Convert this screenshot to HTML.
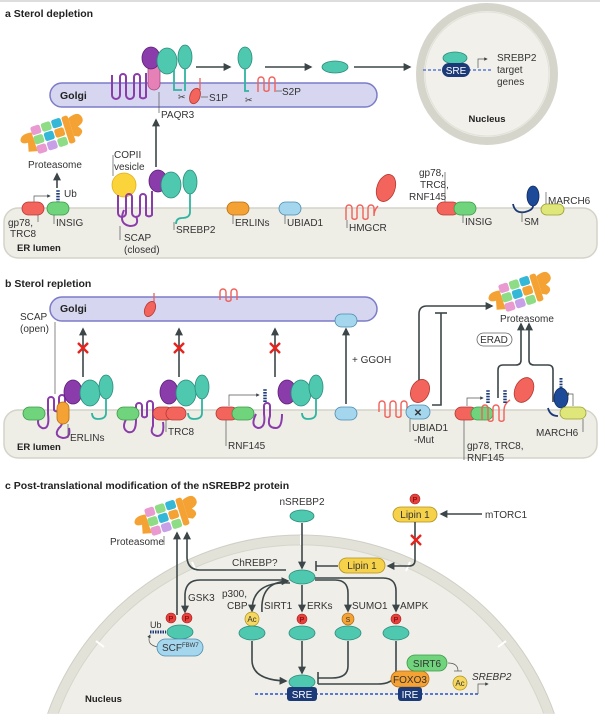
<!DOCTYPE html>
<html><head><meta charset="utf-8"><style>
html,body{margin:0;padding:0;background:#fff;width:600px;height:721px;overflow:hidden}
svg{display:block}
text{font-family:"Liberation Sans",sans-serif;font-size:10px;fill:#333}
.t{font-weight:bold;font-size:10.5px;fill:#222}
.c{text-anchor:middle}
.ln{stroke:#3c4648;stroke-width:1.6;fill:none}
.th{stroke:#555;stroke-width:0.7;fill:none}
.tl{fill:#4fc8b0;stroke:#2b8c7c;stroke-width:0.8}
.pu{fill:#8b3cab;stroke:#5c2078;stroke-width:0.8}
.rd{fill:#f2645c;stroke:#b43a34;stroke-width:0.8}
.gr{fill:#70d47c;stroke:#3c9a48;stroke-width:0.8}
.or{fill:#f5a234;stroke:#b86e10;stroke-width:0.8}
.bl{fill:#a4d6ee;stroke:#4c8cb0;stroke-width:0.8}
.ye{fill:#f6d24a;stroke:#b0901a;stroke-width:0.8}
.yg{fill:#dfe67a;stroke:#9aa030;stroke-width:0.8}
.pl{stroke:#8b3cab;stroke-width:2;fill:none}
.rw{stroke:#f0605a;stroke-width:1.4;fill:none}
.ts{stroke:#2fb4a0;stroke-width:1.8;fill:none}
.ub{stroke:#1c3a78;stroke-width:3.5;stroke-dasharray:1.6,1.2;fill:none}
.x{stroke:#e8221c;stroke-width:2.4}
</style></head><body>
<svg width="600" height="721" viewBox="0 0 600 721" xmlns="http://www.w3.org/2000/svg">
<defs>
<marker id="a" viewBox="0 0 10 10" refX="8" refY="5" markerWidth="5" markerHeight="5" orient="auto"><path d="M0,0 L10,5 L0,10 z" fill="#3c4648"/></marker>
<symbol id="prot" viewBox="-32 -22 64 44" overflow="visible">
<g transform="rotate(-18)">
<rect x="-20" y="-13" width="9" height="8" rx="2" fill="#e99ad0"/><rect x="-20" y="-4" width="9" height="8" rx="2" fill="#8fdc86"/><rect x="-20" y="5" width="9" height="8" rx="2" fill="#e99ad0"/>
<rect x="-10" y="-13" width="9" height="8" rx="2" fill="#8fdc86"/><rect x="-10" y="-4" width="9" height="8" rx="2" fill="#35b8d8"/><rect x="-10" y="5" width="9" height="8" rx="2" fill="#c7a0e8"/>
<rect x="0" y="-13" width="9" height="8" rx="2" fill="#35b8d8"/><rect x="0" y="-4" width="9" height="8" rx="2" fill="#f5a234"/><rect x="0" y="5" width="9" height="8" rx="2" fill="#8fdc86"/>
<rect x="10" y="-13" width="6" height="26" rx="2" fill="#f5a234"/>
<path d="M16,-10 q10,-4 12,2 q2,6 -6,8 q6,6 -2,9 l-4,-2z" fill="#f5a234"/>
<path d="M-20,-8 q-10,-2 -12,4 q0,4 6,4 l-2,8 l8,2z" fill="#f5a234"/>
</g></symbol>
</defs>
<line x1="0" y1="1" x2="600" y2="1" stroke="#bbb"/>

<!-- ============ PANEL A ============ -->
<text x="5" y="17" class="t">a  Sterol depletion</text>
<circle cx="487" cy="74" r="67" fill="#f1f0ea" stroke="#d6d5cc" stroke-width="8"/>
<circle cx="487" cy="74" r="62" fill="none" stroke="#e2e1d8" stroke-width="1"/>
<line x1="423" y1="70" x2="492" y2="70" stroke="#5a7ad0" stroke-width="1.5" stroke-dasharray="3,2"/>
<ellipse cx="455" cy="58" rx="12" ry="6" class="tl"/>
<rect x="442" y="63" width="28" height="14" rx="7" fill="#1c3a78"/>
<text x="456" y="74" class="c" style="fill:#fff">SRE</text>
<path d="M478,68 V59 H487" class="th" marker-end="url(#a)"/>
<text x="497" y="61">SREBP2</text><text x="497" y="73">target</text><text x="497" y="85">genes</text>
<text x="487" y="122" class="t c" style="font-size:9.5px">Nucleus</text>
<rect x="50" y="83" width="327" height="24" rx="12" fill="#d6d6f0" stroke="#7c7cc8" stroke-width="1.5"/>
<text x="60" y="99" class="t">Golgi</text>
<path d="M112,75 v20 a4,4 0 0 0 8,0 v-18 a3,3 0 0 1 6,0 v18 a4,4 0 0 0 8,0 v-18 a3,3 0 0 1 6,0 v20 a4,4 0 0 0 6,0 v-24" class="pl"/>
<rect x="148" y="64" width="12" height="26" rx="6" fill="#e681b8" stroke="#a84a80" stroke-width="0.8"/>
<ellipse cx="151" cy="58" rx="9" ry="11" class="pu"/>
<ellipse cx="167" cy="61" rx="10" ry="13" class="tl"/>
<path d="M174,70 v20 h8" class="ts"/>
<ellipse cx="185" cy="57" rx="7" ry="12" class="tl"/>
<path d="M185,69 v22" class="ts"/>
<text x="178" y="100" style="font-size:9px">✂</text>
<line x1="200" y1="78" x2="200" y2="90" stroke="#f0605a" stroke-width="1.3"/>
<ellipse cx="195" cy="96" rx="5" ry="8" class="rd" transform="rotate(20 195 96)"/>
<line x1="201" y1="97" x2="208" y2="97" class="th"/><text x="209" y="101">S1P</text>
<line x1="159" y1="92" x2="159" y2="113" class="th"/><text x="161" y="118">PAQR3</text>
<line x1="196" y1="67" x2="230" y2="67" class="ln" marker-end="url(#a)"/>
<ellipse cx="245" cy="58" rx="7" ry="11" class="tl"/>
<path d="M245,69 v22 h4" class="ts"/>
<text x="245" y="103" style="font-size:9px">✂</text>
<path d="M258,92 v-12 a3,3 0 0 1 6,0 v10 a3,3 0 0 0 5,0 v-10 a3,3 0 0 1 6,0 v12" class="rw"/>
<line x1="276" y1="91" x2="282" y2="91" class="th"/><text x="282" y="95">S2P</text>
<line x1="265" y1="67" x2="311" y2="67" class="ln" marker-end="url(#a)"/>
<ellipse cx="335" cy="67" rx="13" ry="6" class="tl"/>
<line x1="354" y1="67" x2="410" y2="67" class="ln" marker-end="url(#a)"/>
<line x1="156" y1="167" x2="156" y2="120" class="ln" marker-end="url(#a)"/>
<rect x="4" y="208" width="593" height="50" rx="14" fill="#eeede6" stroke="#d4d3c8" stroke-width="1.5"/>
<text x="17" y="251" class="t" style="font-size:9.5px">ER lumen</text>
<use href="#prot" x="20" y="110" width="70" height="48"/>
<text x="55" y="168" class="c">Proteasome</text>
<line x1="57" y1="188" x2="57" y2="174" class="ln" marker-end="url(#a)"/>
<path d="M58,203 V189" class="ub"/>
<text x="64" y="197">Ub</text>
<path d="M34,202 v-6 h16" class="th" marker-end="url(#a)"/>
<rect x="22" y="202" width="22" height="13" rx="6.5" class="rd"/>
<rect x="47" y="202" width="22" height="13" rx="6.5" class="gr"/>
<line x1="38" y1="215" x2="38" y2="222" class="th"/>
<text x="8" y="226">gp78,</text><text x="10" y="237">TRC8</text>
<line x1="54" y1="215" x2="54" y2="224" class="th"/><text x="56" y="226">INSIG</text>
<circle cx="124" cy="185" r="12" fill="#fbd33a" stroke="#e0b020" stroke-width="0.8"/>
<line x1="113" y1="155" x2="113" y2="176" class="th"/>
<text x="114" y="158">COPII</text><text x="114" y="170">vesicle</text>
<path d="M118,195 v18 a4,4 0 0 0 8,0 v-16 a3,3 0 0 1 6,0 v16 a4,4 0 0 0 8,0 v-16 a3,3 0 0 1 6,0 v18 a4,4 0 0 0 6,0 v-24" class="pl"/>
<path d="M124,210 q-6,14 6,16 q10,0 6,-10" class="pl"/>
<ellipse cx="158" cy="181" rx="9" ry="11" class="pu"/>
<ellipse cx="171" cy="185" rx="10" ry="13" class="tl"/>
<ellipse cx="190" cy="182" rx="7" ry="12" class="tl"/>
<path d="M190,194 v18 q0,6 -8,6 q-6,0 -6,6" class="ts"/>
<line x1="120" y1="226" x2="120" y2="240" class="th"/>
<text x="124" y="241">SCAP</text><text x="124" y="253">(closed)</text>
<line x1="174" y1="222" x2="174" y2="230" class="th"/><text x="176" y="233">SREBP2</text>
<rect x="227" y="202" width="22" height="13" rx="6.5" class="or"/>
<line x1="233" y1="215" x2="233" y2="224" class="th"/><text x="235" y="226">ERLINs</text>
<rect x="279" y="202" width="22" height="13" rx="6.5" class="bl"/>
<line x1="285" y1="215" x2="285" y2="224" class="th"/><text x="287" y="226">UBIAD1</text>
<path d="M346,220 v-12 a3,3 0 0 1 6,0 v10 a3,3 0 0 0 5,0 v-10 a3,3 0 0 1 6,0 v10 a3,3 0 0 0 5,0 v-10 a3,3 0 0 1 6,0 v8 q0,-6 4,-10" class="rw"/>
<ellipse cx="386" cy="188" rx="9" ry="14" class="rd" transform="rotate(20 386 188)"/>
<line x1="347" y1="220" x2="347" y2="228" class="th"/><text x="349" y="231">HMGCR</text>
<rect x="437" y="202" width="22" height="13" rx="6.5" class="rd"/>
<rect x="454" y="202" width="22" height="13" rx="6.5" class="gr"/>
<text x="419" y="176">gp78,</text><text x="420" y="188">TRC8,</text><text x="409" y="200">RNF145</text>
<line x1="445" y1="172" x2="445" y2="202" class="th"/>
<line x1="463" y1="215" x2="463" y2="223" class="th"/><text x="465" y="225">INSIG</text>
<path d="M513,204 q2,10 12,8 q8,-2 8,-6" stroke="#1c3a78" stroke-width="1.8" fill="none"/>
<ellipse cx="533" cy="196" rx="6" ry="10" fill="#1c4a98" stroke="#102a60" stroke-width="0.8"/>
<line x1="522" y1="212" x2="522" y2="222" class="th"/><text x="524" y="225">SM</text>
<rect x="541" y="204" width="23" height="11" rx="5.5" class="yg"/>
<line x1="546" y1="192" x2="546" y2="204" class="th"/><text x="548" y="204">MARCH6</text>

<!-- ============ PANEL B ============ -->
<text x="5" y="287" class="t">b  Sterol repletion</text>
<rect x="50" y="297" width="327" height="24" rx="12" fill="#d6d6f0" stroke="#7c7cc8" stroke-width="1.5"/>
<text x="60" y="312" class="t">Golgi</text>
<line x1="154" y1="293" x2="154" y2="302" stroke="#f0605a" stroke-width="1.3"/>
<ellipse cx="150" cy="309" rx="5" ry="8" class="rd" transform="rotate(25 150 309)"/>
<path d="M220,300 v-8 a3,3 0 0 1 6,0 v8 a3,3 0 0 0 5,0 v-8 a3,3 0 0 1 6,0 v8" class="rw"/>
<rect x="335" y="314" width="22" height="13" rx="6.5" class="bl"/>
<line x1="83" y1="377" x2="83" y2="329" class="ln" marker-end="url(#a)"/>
<line x1="179" y1="377" x2="179" y2="329" class="ln" marker-end="url(#a)"/>
<line x1="275" y1="377" x2="275" y2="329" class="ln" marker-end="url(#a)"/>
<g class="x"><line x1="78" y1="343" x2="88" y2="353"/><line x1="88" y1="343" x2="78" y2="353"/>
<line x1="174" y1="343" x2="184" y2="353"/><line x1="184" y1="343" x2="174" y2="353"/>
<line x1="270" y1="343" x2="280" y2="353"/><line x1="280" y1="343" x2="270" y2="353"/></g>
<line x1="346" y1="404" x2="346" y2="329" class="ln" marker-end="url(#a)"/>
<text x="352" y="363">+ GGOH</text>
<rect x="4" y="410" width="593" height="48" rx="14" fill="#eeede6" stroke="#d4d3c8" stroke-width="1.5"/>
<text x="17" y="450" class="t" style="font-size:9.5px">ER lumen</text>
<path d="M42,412 q-8,12 0,16 q8,2 6,-14 v-14 a3,3 0 0 1 6,0 v10 a3,3 0 0 0 5,0 v-12 a3,3 0 0 1 6,0 q0,26 -6,30 q-6,8 4,10 q8,0 6,-10" class="pl"/>
<rect x="23" y="407" width="22" height="13" rx="6.5" class="gr"/>
<rect x="57" y="402" width="12" height="22" rx="6" class="or"/>
<ellipse cx="73" cy="392" rx="9" ry="12" class="pu"/>
<ellipse cx="90" cy="393" rx="10" ry="13" class="tl"/>
<ellipse cx="106" cy="387" rx="7" ry="12" class="tl"/>
<path d="M106,399 v14 q0,6 -8,6 q-6,0 -6,-6" class="ts"/>
<text x="20" y="320">SCAP</text><text x="20" y="332">(open)</text>
<line x1="55" y1="322" x2="55" y2="394" class="th"/>
<line x1="68" y1="424" x2="68" y2="438" class="th"/><text x="70" y="441">ERLINs</text>
<path d="M128,416 q-8,12 0,16 q8,2 8,-12 v-14 a3,3 0 0 1 6,0 v10 a3,3 0 0 0 5,0 v-12 a3,3 0 0 1 6,0 v22 q-4,8 4,10 q8,0 6,-14" class="pl"/>
<rect x="117" y="407" width="22" height="13" rx="6.5" class="gr"/>
<rect x="153" y="407" width="20" height="13" rx="6.5" class="rd"/>
<rect x="166" y="407" width="20" height="13" rx="6.5" class="rd"/>
<ellipse cx="169" cy="392" rx="9" ry="12" class="pu"/>
<ellipse cx="186" cy="393" rx="10" ry="13" class="tl"/>
<ellipse cx="202" cy="387" rx="7" ry="12" class="tl"/>
<path d="M202,399 v14 q0,6 -8,6 q-6,0 -6,-6" class="ts"/>
<line x1="166" y1="420" x2="166" y2="432" class="th"/><text x="168" y="435">TRC8</text>
<rect x="216" y="407" width="22" height="13" rx="6.5" class="rd"/>
<rect x="232" y="407" width="22" height="13" rx="6.5" class="gr"/>
<path d="M229,406 V395 H259" class="th" marker-end="url(#a)"/>
<path d="M265,402 V388" class="ub"/>
<path d="M256,414 q-6,12 2,14 q8,0 6,-14 v-8 a3,3 0 0 1 6,0 v10 q-4,12 6,12 q6,0 6,-14" class="pl"/>
<ellipse cx="287" cy="392" rx="9" ry="12" class="pu"/>
<ellipse cx="301" cy="393" rx="10" ry="13" class="tl"/>
<ellipse cx="316" cy="387" rx="7" ry="12" class="tl"/>
<path d="M316,399 v14 q0,6 -8,6 q-6,0 -6,-6" class="ts"/>
<line x1="226" y1="420" x2="226" y2="446" class="th"/><text x="228" y="449">RNF145</text>
<rect x="335" y="407" width="22" height="13" rx="6.5" class="bl"/>
<path d="M379,412 v-8 a3,3 0 0 1 6,0 v12 a3,3 0 0 0 5,0 v-12 a3,3 0 0 1 6,0 v12 a3,3 0 0 0 5,0 v-12 a3,3 0 0 1 6,0 v10" class="rw"/>
<ellipse cx="420" cy="391" rx="9" ry="12" class="rd" transform="rotate(25 420 391)"/>
<rect x="406" y="405" width="24" height="14" rx="7" class="bl"/>
<text x="418" y="416" class="c" style="font-weight:bold;font-size:10px">✕</text>
<path d="M419,380 V314 q0,-8 8,-8 H492" class="ln" marker-end="url(#a)"/>
<path d="M432,405 H441 V313" class="ln"/><line x1="435" y1="313" x2="447" y2="313" class="ln"/>
<line x1="410" y1="419" x2="410" y2="432" class="th"/>
<text x="412" y="431">UBIAD1</text><text x="414" y="443">-Mut</text>
<use href="#prot" x="488" y="268" width="70" height="48"/>
<text x="527" y="322" class="c">Proteasome</text>
<rect x="477" y="333" width="35" height="13" rx="6.5" fill="#fff" stroke="#666" stroke-width="0.8"/>
<text x="494" y="343" class="c">ERAD</text>
<path d="M498,398 V370 q0,-5 5,-5 H516 q5,0 5,-5 V324" class="ln" marker-end="url(#a)"/>
<path d="M553,402 V370 q0,-5 -5,-5 H534 q-5,0 -5,-5 V324" class="ln" marker-end="url(#a)"/>
<rect x="455" y="407" width="22" height="13" rx="6.5" class="rd"/>
<rect x="471" y="407" width="22" height="13" rx="6.5" class="gr"/>
<path d="M467,406 V398 H483" class="th" marker-end="url(#a)"/>
<path d="M482,420 v-12 a3,3 0 0 1 6,0 v12 a3,3 0 0 0 5,0 v-12 a3,3 0 0 1 6,0 v12 a3,3 0 0 0 5,0 v-10 q0,-6 6,-10" class="rw"/>
<path d="M488,403 V390" class="ub"/><path d="M505,403 V390" class="ub"/>
<ellipse cx="524" cy="390" rx="9" ry="13" class="rd" transform="rotate(25 524 390)"/>
<line x1="464" y1="420" x2="464" y2="460" class="th"/>
<text x="467" y="449">gp78, TRC8,</text><text x="467" y="461">RNF145</text>
<path d="M548,408 q2,8 10,8" stroke="#1c3a78" stroke-width="1.8" fill="none"/>
<ellipse cx="561" cy="398" rx="7" ry="10" fill="#1c4a98" stroke="#102a60" stroke-width="0.8"/>
<path d="M561,388 V378" class="ub" style="stroke-width:3"/>
<path d="M573,406 V394 H566" class="th" marker-end="url(#a)"/>
<rect x="560" y="407" width="26" height="12" rx="6" class="yg"/>
<line x1="583" y1="419" x2="583" y2="432" class="th"/><text x="536" y="436">MARCH6</text>

<!-- ============ PANEL C ============ -->
<text x="5" y="489" class="t">c  Post-translational modification of the nSREBP2 protein</text>
<path d="M47.5,714 A269,269 0 0 1 554.5,714 Z" fill="#e3e2d9" stroke="#d0cfc5" stroke-width="1"/>
<path d="M58.1,714 A259,259 0 0 1 543.9,714 Z" fill="#efeee8" stroke="#d6d5cb" stroke-width="1"/>
<line x1="47" y1="714.5" x2="555" y2="714.5" stroke="#fff" stroke-width="1.5"/>
<line x1="301" y1="535" x2="301" y2="545" stroke="#fff" stroke-width="2"/>
<line x1="96" y1="641" x2="104" y2="647" stroke="#fff" stroke-width="2"/>
<line x1="506" y1="641" x2="498" y2="647" stroke="#fff" stroke-width="2"/>
<line x1="192" y1="562" x2="196" y2="571" stroke="#fff" stroke-width="2"/>
<line x1="410" y1="562" x2="406" y2="571" stroke="#fff" stroke-width="2"/>
<text x="85" y="702" class="t" style="font-size:9.5px">Nucleus</text>
<use href="#prot" x="133" y="492" width="72" height="48"/>
<text x="110" y="545">Proteasome</text>
<line x1="164" y1="536" x2="164" y2="545" class="th"/>
<text x="302" y="505" class="c">nSREBP2</text>
<ellipse cx="302" cy="516" rx="12" ry="6" class="tl"/>
<line x1="302" y1="523" x2="302" y2="568" class="ln" marker-end="url(#a)"/>
<circle cx="415" cy="499" r="5" fill="#e8403c" stroke="#a02020" stroke-width="0.6"/>
<text x="415" y="502" class="c" style="font-size:7px;fill:#600">P</text>
<rect x="393" y="507" width="44" height="15" rx="7.5" class="ye"/>
<text x="415" y="518" class="c">Lipin 1</text>
<text x="485" y="518">mTORC1</text>
<line x1="482" y1="514" x2="441" y2="514" class="ln" marker-end="url(#a)"/>
<path d="M415,522 V560 q0,6 -6,6 H388" class="ln" marker-end="url(#a)"/>
<g class="x"><line x1="411" y1="535" x2="421" y2="545"/><line x1="421" y1="535" x2="411" y2="545"/></g>
<rect x="339" y="558" width="46" height="15" rx="7.5" class="ye"/>
<text x="362" y="569" class="c">Lipin 1</text>
<line x1="338" y1="566" x2="316" y2="566" class="ln"/><line x1="316" y1="561" x2="316" y2="571" class="ln"/>
<ellipse cx="302" cy="577" rx="13" ry="7" class="tl"/>
<text x="232" y="566">ChREBP?</text>
<path d="M286,570 H200 q-12,0 -13,-12 V533" class="ln" marker-end="url(#a)"/>
<line x1="177" y1="615" x2="177" y2="533" class="ln" marker-end="url(#a)"/>
<path d="M286,580 H200 q-14,0 -15,14 V612" class="ln" marker-end="url(#a)"/>
<text x="188" y="601">GSK3</text>
<path d="M290,583 q-38,-2 -38,28" class="ln" marker-end="url(#a)"/>
<path d="M262,612 q-2,-30 26,-31" class="ln" marker-end="url(#a)"/>
<text x="222" y="597">p300,</text><text x="227" y="609">CBP</text>
<text x="264" y="609">SIRT1</text>
<line x1="302" y1="585" x2="302" y2="611" class="ln" marker-end="url(#a)"/>
<text x="307" y="609">ERKs</text>
<path d="M315,580 H335 q13,0 13,13 V611" class="ln" marker-end="url(#a)"/>
<text x="352" y="609">SUMO1</text>
<path d="M315,578 H383 q13,0 13,13 V611" class="ln" marker-end="url(#a)"/>
<text x="400" y="609">AMPK</text>
<circle cx="252" cy="619" r="7" fill="#f6d860" stroke="#b0901a" stroke-width="0.7"/><text x="252" y="622" class="c" style="font-size:8px">Ac</text>
<circle cx="302" cy="619" r="5" fill="#e8403c" stroke="#a02020" stroke-width="0.6"/><text x="302" y="622" class="c" style="font-size:7px;fill:#600">P</text>
<circle cx="348" cy="619" r="6" fill="#f5a234" stroke="#a06010" stroke-width="0.6"/><text x="348" y="622" class="c" style="font-size:7px">S</text>
<circle cx="396" cy="619" r="5" fill="#e8403c" stroke="#a02020" stroke-width="0.6"/><text x="396" y="622" class="c" style="font-size:7px;fill:#600">P</text>
<ellipse cx="252" cy="633" rx="13" ry="7" class="tl"/>
<ellipse cx="302" cy="633" rx="13" ry="7" class="tl"/>
<ellipse cx="348" cy="633" rx="13" ry="7" class="tl"/>
<ellipse cx="396" cy="633" rx="13" ry="7" class="tl"/>
<path d="M252,641 V660 q0,20 34,21" class="ln" marker-end="url(#a)"/>
<line x1="302" y1="641" x2="302" y2="673" class="ln" marker-end="url(#a)"/>
<path d="M348,641 V666 q0,12 -16,12 H318" class="ln"/><line x1="318" y1="672" x2="318" y2="684" class="ln"/>
<path d="M396,641 V670 q0,14 -18,14 H318" class="ln"/>
<circle cx="171" cy="618" r="5" fill="#e8403c" stroke="#a02020" stroke-width="0.6"/><text x="171" y="621" class="c" style="font-size:7px;fill:#600">P</text>
<circle cx="187" cy="618" r="5" fill="#e8403c" stroke="#a02020" stroke-width="0.6"/><text x="187" y="621" class="c" style="font-size:7px;fill:#600">P</text>
<ellipse cx="180" cy="632" rx="13" ry="7" class="tl"/>
<path d="M150,632 H166" class="ub" style="stroke-dasharray:1.5,1;stroke-width:3"/>
<text x="150" y="628" style="font-size:9px">Ub</text>
<path d="M158,647 q-12,-2 -8,-12" class="th" marker-end="url(#a)"/>
<rect x="157" y="639" width="46" height="17" rx="8.5" class="bl"/>
<text x="162" y="651">SCF<tspan font-size="6" dy="-4">FBW7</tspan></text>
<line x1="255" y1="694" x2="480" y2="694" stroke="#5a7ad0" stroke-width="2" stroke-dasharray="3,2"/>
<ellipse cx="302" cy="682" rx="13" ry="7" class="tl"/>
<rect x="287" y="687" width="30" height="14" rx="3" fill="#1c3a78"/>
<text x="302" y="698" class="c" style="fill:#fff">SRE</text>
<rect x="391" y="671" width="38" height="16" rx="8" class="or"/>
<text x="410" y="683" class="c">FOXO3</text>
<rect x="398" y="687" width="24" height="14" rx="3" fill="#1c3a78"/>
<text x="410" y="698" class="c" style="fill:#fff">IRE</text>
<rect x="407" y="655" width="40" height="16" rx="8" class="gr"/>
<text x="427" y="667" class="c">SIRT6</text>
<path d="M448,663 q10,0 10,8" class="th"/><line x1="454" y1="671" x2="462" y2="671" class="th"/>
<circle cx="460" cy="683" r="7" fill="#f6d860" stroke="#b0901a" stroke-width="0.7"/><text x="460" y="686" class="c" style="font-size:8px">Ac</text>
<path d="M478,694 V684 H488" class="th" marker-end="url(#a)"/>
<text x="472" y="680" style="font-style:italic">SREBP2</text>
</svg>
</body></html>
